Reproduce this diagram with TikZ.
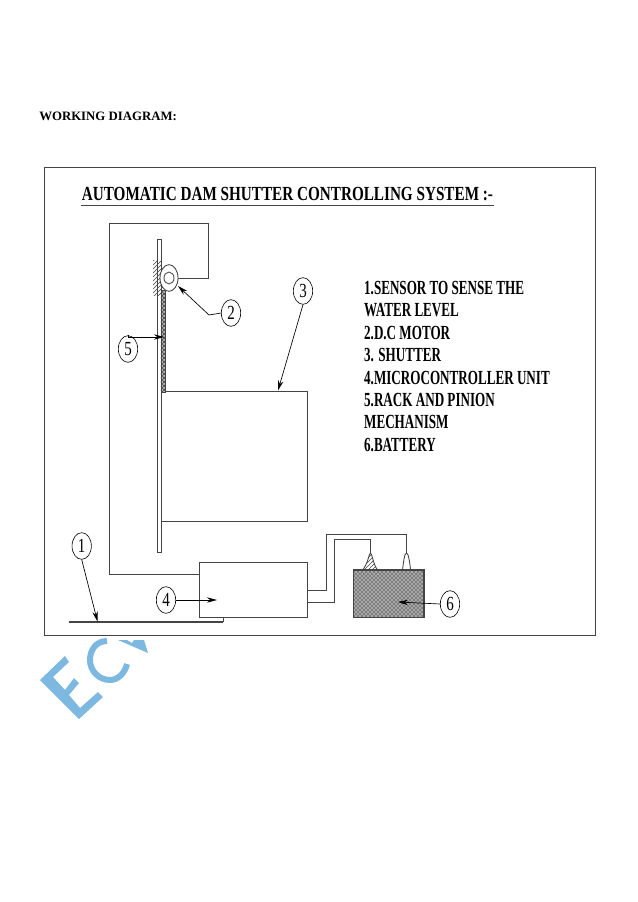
\documentclass[tikz,border=0pt]{standalone}
\usepackage{fontspec}
\setmainfont{Liberation Serif}
\usetikzlibrary{arrows.meta,shapes,positioning,patterns}
\definecolor{markblue}{HTML}{7DB8E0}
\definecolor{inkgray}{HTML}{444444}

\begin{document}
\begin{tikzpicture}[
    x=0.75pt, y=-0.75pt,
    part/.style={draw=inkgray, rectangle, line width=0.65pt, inner sep=0pt},
    tag/.style={draw=black, ellipse, line width=0.45pt, inner sep=0pt, minimum width=14.5pt, minimum height=20pt},
    tagtext/.style={font=\fontsize{15}{15}\selectfont, xscale=0.75},
    wire/.style={draw=inkgray, line width=0.65pt},
    arrow/.style={-{Stealth[length=7.5pt,width=4pt]}, line width=0.5pt}
]
    \useasboundingbox (0,0) rectangle (638,902);

    % Heading and frame
    \node [font=\bfseries\fontsize{9.6}{11}\selectfont, anchor=west, inner sep=0pt] (heading) at (39,116) {WORKING DIAGRAM:};
    \node [part, minimum width=413.25pt, minimum height=351pt] (frame) at (319.5,401) {};
    \node [font=\bfseries\fontsize{15}{17}\selectfont, xscale=0.76, inner sep=0pt] (title) at (287.5,194) {AUTOMATIC DAM SHUTTER CONTROLLING SYSTEM :-};
    \coordinate (ruleL) at (81,205);
    \coordinate (ruleR) at (494,205);
    \draw [wire] (ruleL) -- (ruleR);

    % Watermark
    \fill [markblue] (40,680) -- (65,656) -- (69,662) -- (53,677) -- (65,690) -- (74,678) -- (79,683) -- (69,695) -- (80,708) -- (98,692) -- (103,697) -- (79,719) -- cycle;
    \draw [markblue, line width=4.5pt] (107,641) .. controls (96,641) and (90,650) .. (90,660) .. controls (90,671) and (99,680) .. (110,680) .. controls (118,680) and (125,673) .. (127,664);
    \fill [markblue] (118,640) -- (148,653) -- (144,640) -- (134,640) -- (132,643) -- (127,640) -- cycle;

    % Gate parts
    \node [part, fill=white, minimum width=109.5pt, minimum height=97.5pt] (shutter) at (234,456) {};
    \node [part, fill=white, minimum width=3pt, minimum height=234.75pt] (rod) at (159,395.5) {};
    \node [part, preaction={fill=gray!60}, pattern=crosshatch, pattern color=inkgray, minimum width=3.4pt, minimum height=76.5pt] (rack) at (163.25,341) {};
    \node [pattern=north east lines, pattern color=inkgray, minimum width=6pt, minimum height=26.25pt, inner sep=0pt] (mount) at (157,277.5) {};
    \node [part, ellipse, fill=white, minimum width=13.5pt, minimum height=20pt] (motor) at (169,278) {};
    \node [part, ellipse, minimum width=7.5pt, minimum height=9pt] (motorcore) at (169,278) {};

    % Control parts
    \node [part, minimum width=81pt, minimum height=40.9pt] (controller) at (253,589.75) {};
    \node [part, line width=0.9pt, preaction={fill=gray!70}, pattern=crosshatch dots, pattern color=black, minimum width=52.9pt, minimum height=35.8pt] (battery) at (388.75,593.85) {};

    % Battery terminals
    \coordinate (tipA) at (370.5,553);
    \coordinate (tipB) at (406.5,553);
    \draw [wire, pattern=north east lines, pattern color=inkgray] (362.5,570) .. controls (368,564) and (369,553) .. (tipA) .. controls (372,553) and (373,564) .. (377.5,570);
    \draw [wire] (402.5,570) .. controls (403.5,562) and (404.5,553) .. (tipB) .. controls (408.5,553) and (409.5,562) .. (410.7,570);

    % Motor wiring
    \coordinate (cornerA) at (208,223);
    \coordinate (cornerB) at (109,574);
    \draw [wire] (motor.east) -| (cornerA) -| (cornerB) -- (controller.west |- cornerB);

    % Battery wiring
    \coordinate (wireA) at (326,534);
    \coordinate (wireB) at (334,539);
    \draw [wire] (controller.east |- 0,590) -| (wireA) -| (tipB);
    \draw [wire] (controller.east |- 0,602) -| (wireB) -| (tipA);

    % Sensor line
    \coordinate (sensorL) at (69,621.7);
    \coordinate (sensorR) at (223,621.7);
    \draw [wire, line width=1.4pt] (sensorL) -- (sensorR);
    \draw [wire] (sensorR) -- (controller.south -| sensorR);

    % Numbered tags
    \node [tag] (one) at (81.7,546) {};
    \node [tagtext] (onetext) at (one) {1};
    \node [tag] (two) at (231,313) {};
    \node [tagtext] (twotext) at (two) {2};
    \node [tag] (three) at (303,291) {};
    \node [tagtext] (threetext) at (three) {3};
    \node [tag] (four) at (166,600) {};
    \node [tagtext] (fourtext) at (four) {4};
    \node [tag] (five) at (128,349) {};
    \node [tagtext] (fivetext) at (five) {5};
    \node [tag] (six) at (450,604) {};
    \node [tagtext] (sixtext) at (six) {6};

    % Tag arrows
    \coordinate (sensorhit) at (97.5,621.5);
    \coordinate (bendtwo) at (209,315);
    \coordinate (motorhit) at (178,286);
    \coordinate (shutterhit) at (278,390.5);
    \coordinate (controllerhit) at (217,600);
    \coordinate (rackhit) at (164,337);
    \coordinate (batteryhit) at (398,602);
    \draw [arrow] (one.south) -- (sensorhit);
    \draw [arrow] (two.west) -- (bendtwo) -- (motorhit);
    \draw [arrow] (three.south) -- (shutterhit);
    \draw [arrow] (four.east) -- (controllerhit);
    \draw [arrow] (five.north) -- (rackhit -| five.north) -- (rackhit);
    \draw [arrow] (six.west) -- (batteryhit);

    % Legend
    \node [font=\bfseries\fontsize{15}{16.8}\selectfont, align=left, anchor=north west, xscale=0.655, inner sep=0pt] (legend) at (364,281) {1.SENSOR TO SENSE THE\\WATER LEVEL\\2.D.C MOTOR\\3. SHUTTER\\4.MICROCONTROLLER UNIT\\5.RACK AND PINION\\MECHANISM\\6.BATTERY};

\end{tikzpicture}
\end{document}
